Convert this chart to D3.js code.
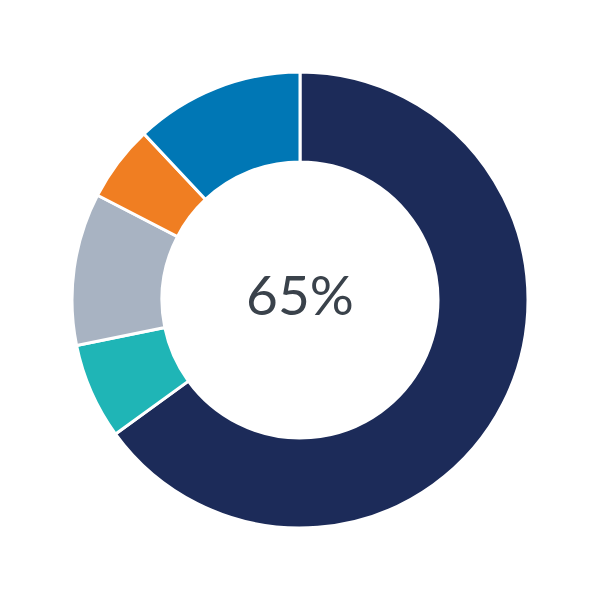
<!DOCTYPE html>
<html>
<head>
    <meta charset="utf-8">
    <title>Donut Chart</title>
    <script src="https://d3js.org/d3.v7.min.js"></script>
    <style>
        body { margin: 0; background: #fff; }
    </style>
</head>
<body>
    <div id="chart"></div>

    <script>
        // Data for visualization
        var categories = ['A', 'B', 'C', 'D', 'E'];
        var values = [65, 6.8, 10.8, 5.4, 12];
        var colors = ['#1c2b59', '#1fb5b6', '#a8b3c2', '#f07e22', '#0077b5'];
        var centerLabel = '65%';

        var width = 600, height = 600;
        var outerRadius = 228, innerRadius = 138;

        var svg = d3.select("#chart")
            .append("svg")
            .attr("width", width)
            .attr("height", height)
            .append("g")
            .attr("transform", "translate(300,300)");

        var color = d3.scaleOrdinal().domain(categories).range(colors);

        var pie = d3.pie().sort(null).value(function (d, i) { return values[i]; });
        var arc = d3.arc().innerRadius(innerRadius).outerRadius(outerRadius);

        svg.selectAll("path")
            .data(pie(categories))
            .enter().append("path")
            .attr("d", arc)
            .attr("fill", function (d) { return color(d.data); })
            .attr("stroke", "#fff")
            .attr("stroke-width", 3);

        svg.append("text")
            .attr("text-anchor", "middle")
            .attr("y", 15)
            .style("font-family", "Lato, sans-serif")
            .style("font-size", "55px")
            .style("font-weight", 400)
            .style("fill", "#3a424b")
            .text(centerLabel);
    </script>
</body>
</html>
